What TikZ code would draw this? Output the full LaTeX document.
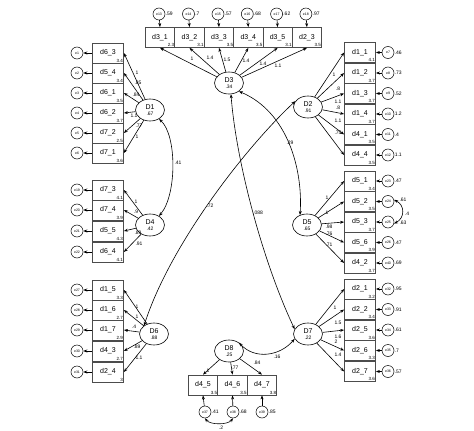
\documentclass[tikz,border=0pt]{standalone}
\usepackage{fontspec}
\setmainfont{Liberation Sans}
\usetikzlibrary{arrows.meta,shapes.geometric}
\tikzset{
 obs/.style={draw=black!70, line width=0.8pt, minimum width=31pt, minimum height=20pt, inner sep=0pt, font=\fontsize{7}{8}\selectfont},
 vall/.style={anchor=south east, inner sep=0.8pt, font=\fontsize{4.5}{5}\selectfont},
 err/.style={circle, draw, line width=0.5pt, minimum size=12pt, inner sep=0pt, font=\fontsize{3.5}{4}\selectfont},
 lat/.style={ellipse, draw, line width=0.6pt, minimum width=29pt, minimum height=22pt, inner sep=0pt, align=center, font=\fontsize{7}{7}\selectfont},
 lab/.style={inner sep=0.3pt, font=\fontsize{5}{6}\selectfont},
 arr/.style={-{Stealth[length=4pt,width=3pt]}, line width=0.6pt},
 darr/.style={{Stealth[length=4pt,width=3pt]}-{Stealth[length=4pt,width=3pt]}, line width=0.6pt},
}
% left indicator: name, y, text, value, error
\newcommand\Lobs[5]{%
  \node[obs,label={[vall]south east:#4}] (#1) at (108,#2) {#3};
  \node[err] (e#1) at (77,#2) {#5};
  \draw[arr] (#1.west) -- (e#1);}
% right indicator: name, y, text, value, error, error variance
\newcommand\Robs[6]{%
  \node[obs,label={[vall]south east:#4}] (#1) at (360,#2) {#3};
  \node[err] (e#1) at (388,#2) {#5};
  \node[lab,anchor=west] (v#1) at (e#1.east) {#6};
  \draw[arr] (e#1) -- (#1.east);}
% top indicator: name, x, text, value, error, error variance
\newcommand\Tobs[6]{%
  \node[obs,minimum width=29.3pt,label={[vall]south east:#4}] (#1) at (#2,37.5) {#3};
  \node[err] (e#1) at (#2-1,14) {#5};
  \node[lab,anchor=west] (v#1) at (e#1.east) {#6};
  \draw[arr] (e#1) -- (#1.north);}
% bottom indicator: name, x, text, value, error, error variance, error x
\newcommand\Bobs[7]{%
  \node[obs,minimum width=29.5pt,label={[vall]south east:#4}] (#1) at (#2,385) {#3};
  \node[err] (e#1) at (#7,412) {#5};
  \node[lab,anchor=west] (v#1) at (e#1.east) {#6};
  \draw[arr] (e#1) -- (#1.south);}
\newcommand\lv[1]{\\[-1.5pt]{\fontsize{5}{5}\selectfont #1}}
\begin{document}
\begin{tikzpicture}[x=1pt,y=-1pt]
\path[use as bounding box] (0,0) rectangle (474,431);

% ---------- top block (D3)
\Tobs{T1}{160}{d3\_1}{2.3}{e13}{.59}
\Tobs{T2}{189.5}{d3\_2}{3.1}{e14}{.7}
\Tobs{T3}{219}{d3\_3}{3.5}{e15}{.57}
\Tobs{T4}{248.3}{d3\_4}{3.5}{e16}{.68}
\Tobs{T5}{277.6}{d3\_5}{3.1}{e17}{.62}
\Tobs{T6}{306.9}{d2\_3}{3.5}{e18}{.97}
\node[lat] (D3) at (229,83) {D3\lv{.34}};
\foreach \b in {T1,T2,T3,T4,T5,T6} \draw[arr] (D3) -- (\b.south);
\node[lab] (t1) at (192,59) {1};
\node[lab] (t2) at (210,58) {1.4};
\node[lab] (t3) at (227,60) {1.5};
\node[lab] (t4) at (246,61) {1.4};
\node[lab] (t5) at (263,64) {1.4};
\node[lab] (t6) at (278,66) {1.1};

% ---------- D1
\Lobs{A1}{53}{d6\_3}{3.4}{e1}
\Lobs{A2}{73}{d5\_4}{3.4}{e2}
\Lobs{A3}{93}{d6\_1}{3.5}{e3}
\Lobs{A4}{113}{d6\_2}{3.7}{e4}
\Lobs{A5}{133}{d7\_2}{2.5}{e5}
\Lobs{A6}{153}{d7\_1}{3.6}{e6}
\node[lat] (D1) at (150,110) {D1\lv{.67}};
\foreach \b in {A1,A2,A3,A4,A5,A6} \draw[arr] (D1) -- (\b.east);
\node[lab] (a1) at (137,73) {1};
\node[lab] (a2) at (138,83) {.85};
\node[lab] (a3) at (136,95) {.84};
\node[lab] (a4) at (134,116) {1.1};
\node[lab] (a5) at (139,126) {.77};
\node[lab] (a6) at (137,137) {1};

% ---------- D4
\Lobs{B1}{190}{d7\_3}{4.1}{e19}
\Lobs{B2}{210}{d7\_4}{3.9}{e20}
\Lobs{B3}{231}{d5\_5}{4.3}{e21}
\Lobs{B4}{252}{d6\_4}{4.1}{e22}
\node[lat] (D4) at (150,225) {D4\lv{.42}};
\foreach \b in {B1,B2,B3,B4} \draw[arr] (D4) -- (\b.east);
\node[lab] (b1) at (136,202) {1};
\node[lab] (b2) at (136,212) {.9};
\node[lab] (b3) at (138,233) {.89};
\node[lab] (b4) at (139,244) {.91};

% ---------- D6
\Lobs{C1}{290}{d1\_5}{3.3}{e27}
\Lobs{C2}{310}{d1\_6}{2.7}{e28}
\Lobs{C3}{330}{d1\_7}{2.9}{e29}
\Lobs{C4}{351}{d4\_3}{2.7}{e30}
\Lobs{C5}{372}{d2\_4}{3}{e31}
\node[lat] (D6) at (154,334) {D6\lv{.88}};
\foreach \b in {C1,C2,C3,C4,C5} \draw[arr] (D6) -- (\b.east);
\node[lab] (c1) at (137,307) {1};
\node[lab] (c2) at (137,317) {1};
\node[lab] (c3) at (134,327) {.4};
\node[lab] (c4) at (137,347) {.89};
\node[lab] (c5) at (139,358) {1.1};

% ---------- D2
\Robs{R1}{52.5}{d1\_1}{4.1}{e7}{.46}
\Robs{R2}{73}{d1\_2}{3.7}{e8}{.73}
\Robs{R3}{93.5}{d1\_3}{3.7}{e9}{.52}
\Robs{R4}{114}{d1\_4}{3.7}{e10}{1.2}
\Robs{R5}{134.5}{d4\_1}{3.5}{e11}{.4}
\Robs{R6}{155}{d4\_4}{3.5}{e12}{1.1}
\node[lat] (D2) at (308,107) {D2\lv{.91}};
\foreach \b in {R1,R2,R3,R4,R5,R6} \draw[arr] (D2) -- (\b.west);
\node[lab] (r1) at (334,75) {1};
\node[lab] (r2) at (338,89) {.8};
\node[lab] (r3) at (338,102) {1.1};
\node[lab] (r4) at (338,107.5) {.8};
\node[lab] (r5) at (338,121) {1.1};
\node[lab] (r6) at (338,133) {.75};

% ---------- D5
\Robs{S1}{181}{d5\_1}{3.4}{e23}{.47}
\Robs{S2}{201.5}{d5\_2}{3.5}{e24}{}
\Robs{S3}{222}{d5\_3}{3.7}{e25}{}
\Robs{S4}{242.5}{d5\_6}{3.9}{e26}{.47}
\Robs{S5}{263}{d4\_2}{3.7}{e40}{.69}
\node[lat] (D5) at (307,225) {D5\lv{.65}};
\foreach \b in {S1,S2,S3,S4,S5} \draw[arr] (D5) -- (\b.west);
\node[lab] (s1) at (327,198) {1};
\node[lab] (s2) at (327,213) {1};
\node[lab] (s3) at (329,227) {.98};
\node[lab] (s4) at (329,234) {.76};
\node[lab] (s5) at (329,245) {.71};
\node[lab] (vS2b) at (403,200) {.61};
\node[lab] (vS3b) at (403,223) {.63};
\draw[darr] (eS2.15) .. controls (405,205) and (405,218) .. (eS3.-15);
\node[lab] (sc) at (407,214) {.4};

% ---------- D7
\Robs{U1}{289}{d2\_1}{3.2}{e32}{.95}
\Robs{U2}{309.5}{d2\_2}{3.4}{e33}{.91}
\Robs{U3}{330}{d2\_5}{3.6}{e34}{.61}
\Robs{U4}{350.5}{d2\_6}{3.3}{e35}{.7}
\Robs{U5}{371.5}{d2\_7}{3.6}{e36}{.57}
\node[lat] (D7) at (308,334) {D7\lv{.22}};
\foreach \b in {U1,U2,U3,U4,U5} \draw[arr] (D7) -- (\b.west);
\node[lab] (u1) at (335,308) {1};
\node[lab] (u2) at (338,323) {1.5};
\node[lab] (u3) at (338,337) {1.6};
\node[lab] (u4) at (336,342) {2};
\node[lab] (u5) at (338,355) {1.4};

% ---------- D8
\Bobs{W1}{203}{d4\_5}{3.5}{e37}{.41}{205}
\Bobs{W2}{232.5}{d4\_6}{3.5}{e38}{.68}{233}
\Bobs{W3}{262}{d4\_7}{3.8}{e39}{.85}{262}
\node[lat] (D8) at (229,351) {D8\lv{.25}};
\foreach \b in {W1,W2,W3} \draw[arr] (D8) -- (\b.north);
\node[lab] (w1) at (208,371) {1};
\node[lab] (w2) at (235,368) {.77};
\node[lab] (w3) at (257,363) {.84};
\draw[darr] (eW1.south) .. controls (210,425) and (228,425) .. (eW2.south);
\node[lab] (wc) at (221,428) {.2};

% ---------- covariances between factors
\draw[darr] (D1.-45) .. controls (177,135) and (177,195) .. (D4.45);
\node[lab] (k1) at (178,163) {.41};
\draw[darr] (D3.-40) .. controls (288,112) and (303,170) .. (D5.125);
\node[lab] (k2) at (290,143) {.29};
\draw[darr] (D3.-80) .. controls (236,160) and (262,260) .. (D7.160);
\node[lab] (k3) at (258,213) {.088};
\draw[darr] (D2.155) .. controls (245,148) and (170,245) .. (D6.140);
\node[lab] (k4) at (210,206) {.72};
\draw[darr] (D8.40) .. controls (255,360) and (280,356) .. (D7.200);
\node[lab] (k5) at (277,357) {.16};
\end{tikzpicture}
\end{document}
